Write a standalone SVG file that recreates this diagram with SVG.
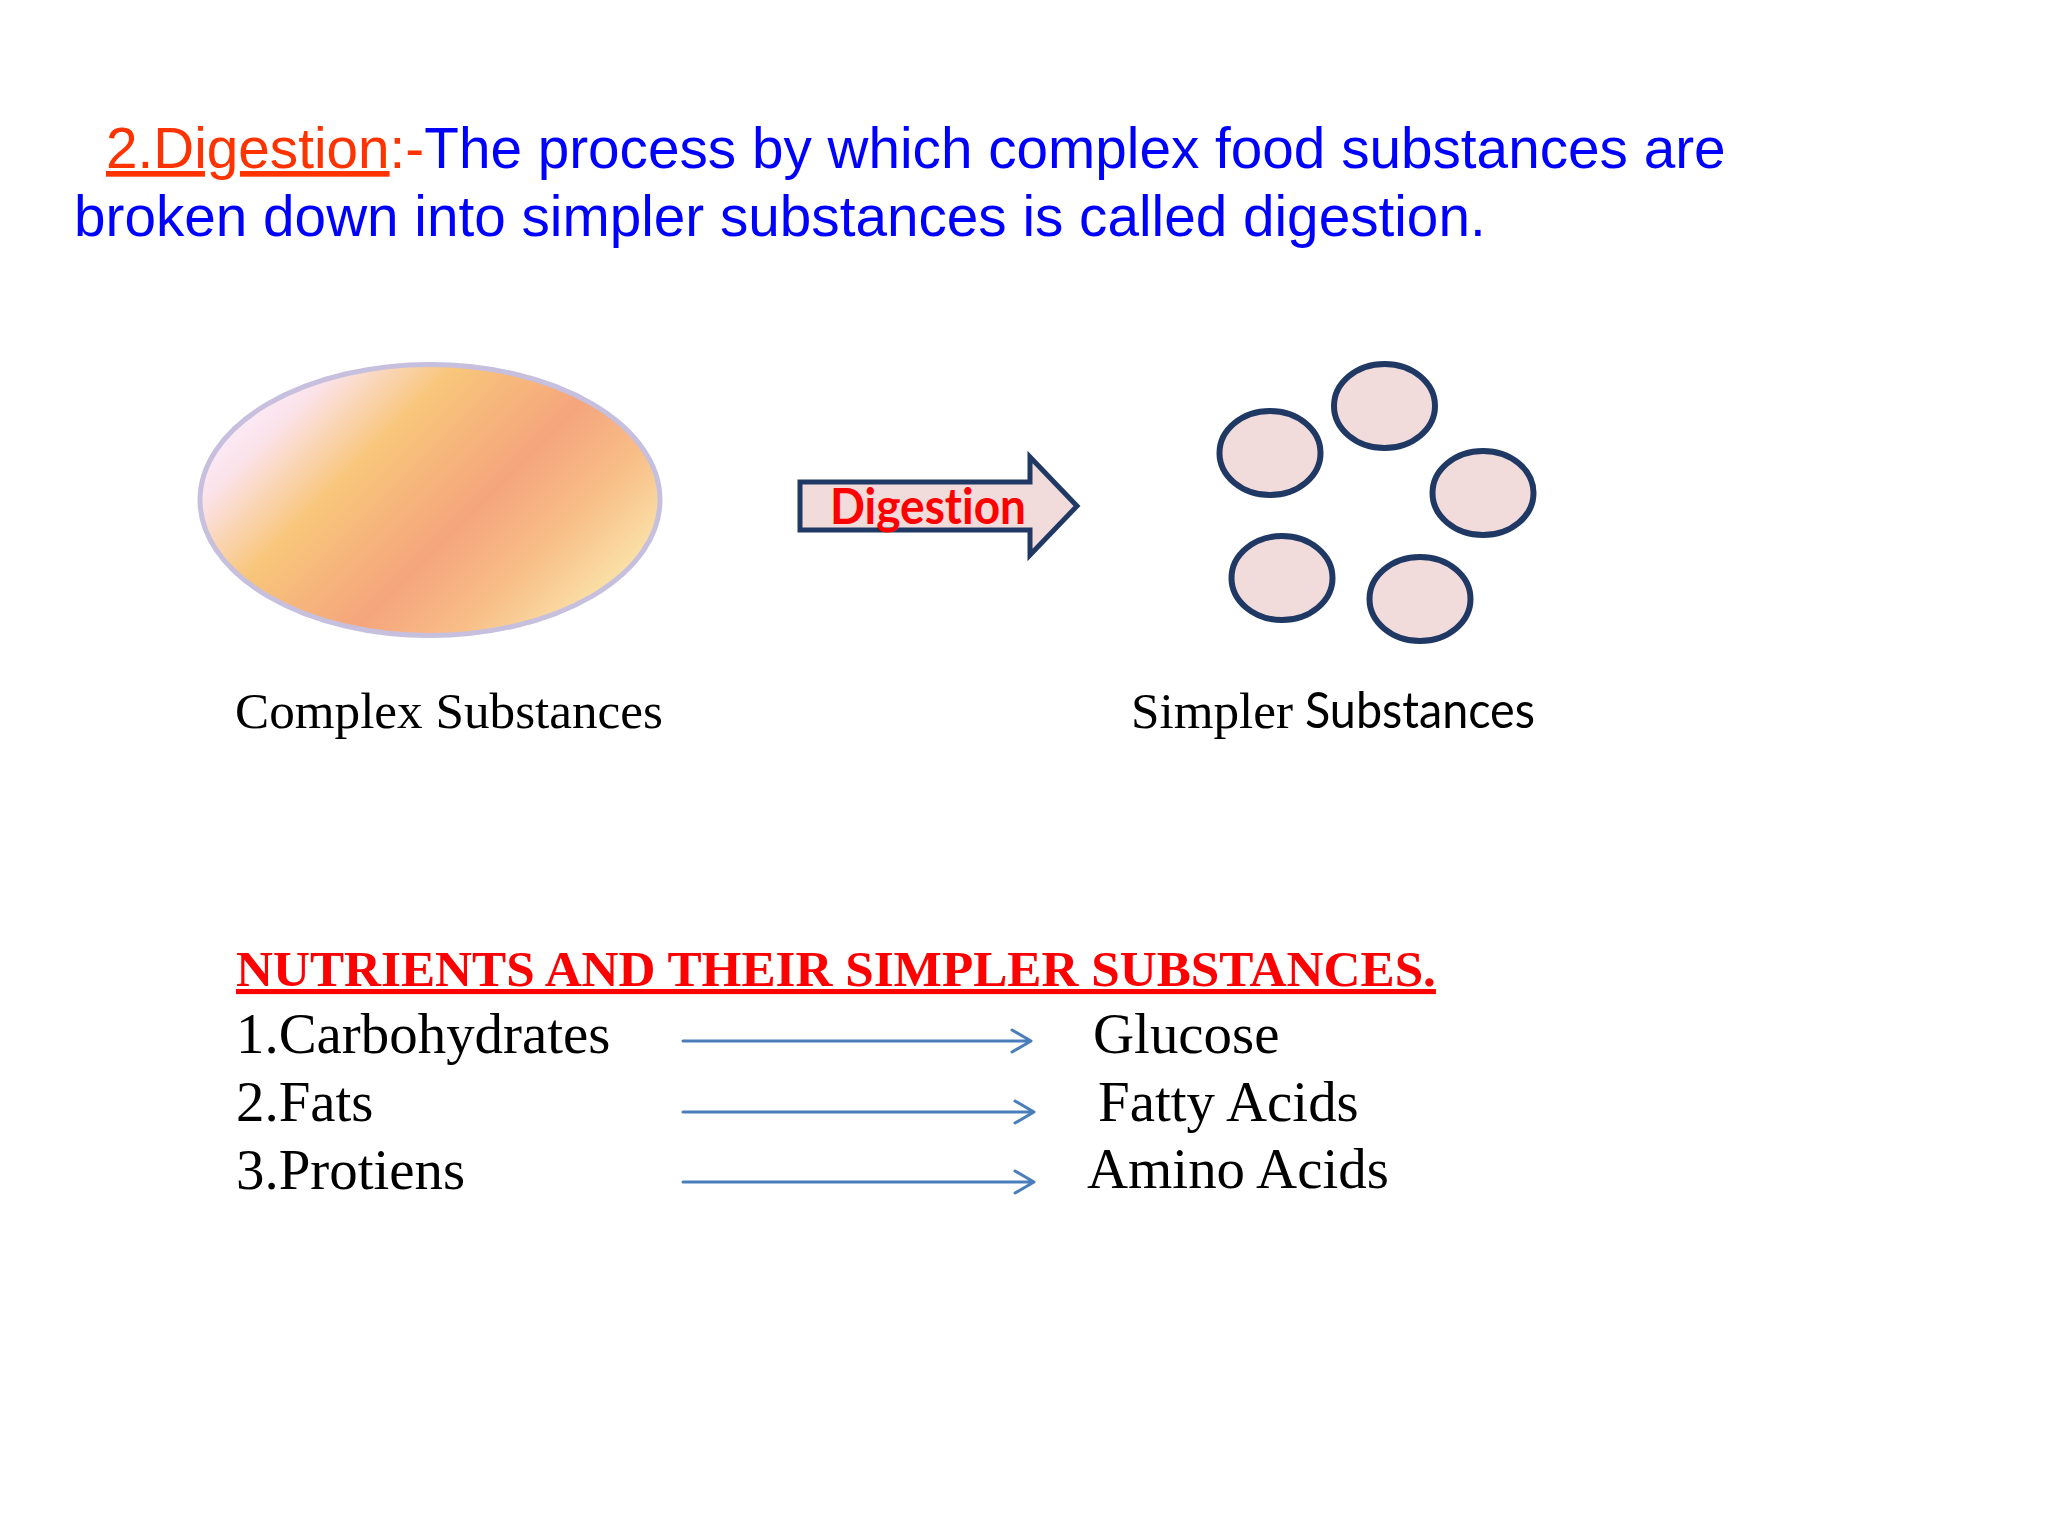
<svg xmlns="http://www.w3.org/2000/svg" width="2048" height="1536" viewBox="0 0 2048 1536">
<defs>
<style>
.hdr{font-family:"Liberation Sans",Arial,sans-serif;font-size:56.7px}
.ser{font-family:"Liberation Serif","Times New Roman",serif;font-size:51.2px;fill:#000}
.item{font-family:"Liberation Serif","Times New Roman",serif;font-size:56.9px;fill:#000}
.cal{font-family:Lato,"Open Sans",sans-serif;font-size:51.2px;fill:#000;font-variant-ligatures:none}
.bead{fill:#F2DCDB;stroke:#1F3864;stroke-width:6}
.conn{stroke:#4A7EBB;stroke-width:3;fill:none;stroke-linecap:round;stroke-linejoin:round}
</style>
<linearGradient id="g1" gradientUnits="userSpaceOnUse" x1="330" y1="330" x2="600" y2="600">
<stop offset="0" stop-color="#FCEAF6"/>
<stop offset="0.08" stop-color="#FBE3EA"/>
<stop offset="0.3" stop-color="#F8C67B"/>
<stop offset="0.6" stop-color="#F5A57C"/>
<stop offset="0.8" stop-color="#F8BE88"/>
<stop offset="1" stop-color="#FAE2A8"/>
</linearGradient>
</defs>
<rect width="2048" height="1536" fill="#FFFFFF"/>

<g id="header">
<text class="hdr" x="106" y="168"><tspan fill="#FF3300" text-decoration="underline">2.Digestion</tspan><tspan fill="#FF3300">:-</tspan><tspan fill="#0000FF">The process by which complex food substances are</tspan></text>
<text class="hdr" x="74" y="236" fill="#0000FF">broken down into simpler substances is called digestion.</text>
</g>

<g id="complex">
<ellipse cx="430" cy="500" rx="230" ry="135.5" fill="url(#g1)" stroke="#C6BFDE" stroke-width="5"/>
<text class="ser" x="235" y="728">Complex Substances</text>
</g>

<g id="digestion-arrow">
<polygon points="800,482 1030,482 1030,457 1077,506 1030,555 1030,530 800,530" fill="#F2DCDB" stroke="#1F3864" stroke-width="5" stroke-linejoin="miter"/>
<text x="830" y="524" font-family="Lato,'Open Sans',sans-serif" font-weight="bold" font-size="50" fill="#FF0000" style="font-variant-ligatures:none" textLength="196" lengthAdjust="spacingAndGlyphs">Digestion</text>
</g>

<g id="simpler">
<ellipse class="bead" cx="1270" cy="453" rx="50.5" ry="42"/>
<ellipse class="bead" cx="1384.5" cy="406" rx="50.5" ry="42"/>
<ellipse class="bead" cx="1483" cy="493" rx="50.5" ry="42"/>
<ellipse class="bead" cx="1282" cy="578" rx="50.5" ry="42"/>
<ellipse class="bead" cx="1420" cy="599" rx="50.5" ry="42"/>
<text x="1131" y="728"><tspan class="ser">Simpler</tspan><tspan class="cal" x="1305" textLength="230" lengthAdjust="spacingAndGlyphs">Substances</tspan></text>
</g>

<g id="nutrients">
<text x="236" y="986" font-family="'Liberation Serif','Times New Roman',serif" font-weight="bold" font-size="51.2" fill="#FF0000" text-decoration="underline">NUTRIENTS AND THEIR SIMPLER SUBSTANCES.</text>
<text class="item" x="236" y="1053">1.Carbohydrates</text>
<text class="item" x="236" y="1121">2.Fats</text>
<text class="item" x="236" y="1189">3.Protiens</text>
<text class="item" x="1093" y="1053">Glucose</text>
<text class="item" x="1098" y="1121">Fatty Acids</text>
<text class="item" x="1087" y="1188">Amino Acids</text>
</g>

<g id="connectors">
<path class="conn" d="M683,1041 H1030 M1012,1030 L1031,1041 L1012,1052"/>
<path class="conn" d="M683,1112 H1033 M1015,1101 L1034,1112 L1015,1123"/>
<path class="conn" d="M683,1182 H1033 M1015,1171 L1034,1182 L1015,1193"/>
</g>
</svg>
